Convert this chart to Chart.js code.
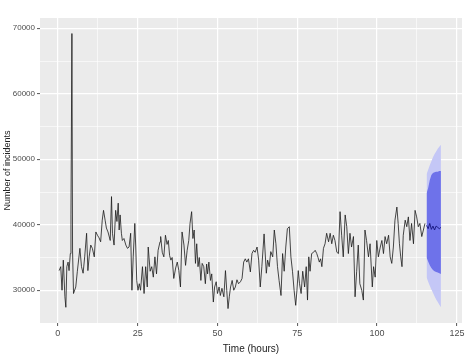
<!DOCTYPE html>
<html>
<head>
<meta charset="utf-8">
<script src="https://cdn.jsdelivr.net/npm/chart.js@4.4.1/dist/chart.umd.min.js"></script>
<style>
  html, body { margin: 0; padding: 0; background: #ffffff; }
  #wrap { width: 474px; height: 360px; }
</style>
</head>
<body>
<div id="wrap"><canvas id="incidentChart" width="474" height="360"></canvas></div>
<script>
// observed series (time in hours, incidents)
var hours = [0.4, 0.9, 1.3, 1.7, 2.2, 2.5, 2.8, 3.2, 3.5, 3.9, 4.1, 4.4, 4.6, 4.9, 5.6, 6.1, 6.9, 7.4, 7.9, 8.4,
  9.0, 9.4, 9.8, 10.3, 10.8, 11.4, 11.9, 12.4, 12.9, 13.4, 13.9, 14.3, 14.8, 15.2, 15.7, 16.4, 16.8, 17.1, 17.6, 18.1,
  18.5, 18.9, 19.2, 19.5, 19.9, 20.2, 20.7, 21.3, 21.8, 22.3, 22.8, 23.2, 23.6, 24.1, 24.4, 24.7, 25.1, 25.5, 25.9, 26.5,
  27.0, 27.5, 28.0, 28.3, 28.9, 29.4, 29.9, 30.4, 30.9, 31.4, 32.0, 32.2, 32.7, 33.2, 33.7, 34.2, 34.6, 35.0, 35.4, 35.8,
  36.3, 36.9, 37.4, 37.9, 38.4, 38.9, 39.5, 40.0, 40.5, 41.0, 41.4, 41.9, 42.3, 42.7, 43.1, 43.5, 43.9, 44.3, 44.8, 45.2,
  45.7, 46.2, 46.6, 46.9, 47.3, 47.8, 48.2, 48.7, 49.1, 49.6, 50.0, 50.5, 50.9, 51.4, 52.0, 52.5, 52.9, 53.3, 53.7, 54.1,
  54.6, 55.1, 55.6, 56.1, 56.6, 57.2, 57.7, 58.2, 58.7, 59.2, 59.7, 60.3, 60.8, 61.3, 61.8, 62.4, 62.9, 63.4, 63.9, 64.6,
  65.3, 65.7, 66.2, 66.7, 67.3, 67.8, 68.3, 68.8, 69.3, 69.9, 70.4, 70.9, 71.4, 71.9, 72.5, 73.0, 73.5, 74.0, 74.5, 74.9,
  75.3, 75.7, 76.2, 76.7, 77.3, 77.8, 78.2, 78.6, 79.0, 79.5, 80.1, 80.6, 81.1, 81.5, 81.9, 82.3, 82.7, 83.2, 83.7, 84.2,
  84.8, 85.3, 85.8, 86.3, 86.8, 87.4, 87.9, 88.4, 88.9, 89.4, 90.0, 90.5, 91.0, 91.5, 92.0, 92.6, 93.1, 93.6, 94.1, 94.6,
  95.2, 95.7, 96.2, 96.7, 97.3, 97.8, 98.5, 98.9, 99.4, 99.9, 100.4, 101.0, 101.5, 102.0, 102.5, 103.0, 103.6, 104.1, 104.6, 105.1,
  105.6, 106.2, 106.6, 107.0, 107.4, 107.8, 108.2, 108.8, 109.3, 109.8, 110.3, 110.8, 111.4, 111.9, 112.4, 112.9, 113.4, 114.0, 114.5, 115.0];
var incidents = [33000, 33600, 30000, 34600, 29000, 27400, 33600, 34300, 33000, 35600, 41500, 69200, 36000, 29500, 30500, 32900, 36400, 33600, 32600, 35100,
  38700, 33000, 35100, 36900, 36400, 35100, 38900, 38400, 38000, 37400, 40700, 42200, 40700, 39500, 38900, 37600, 44300, 38700, 36900, 42200,
  40500, 43300, 39200, 41500, 38700, 37600, 37900, 36900, 36400, 36600, 38700, 30000, 35100, 40200, 36600, 31500, 30000, 31000, 30000, 33600,
  29500, 33600, 30500, 36600, 32900, 33600, 32000, 35100, 32500, 36100, 37400, 38200, 35800, 35100, 38400, 37000, 37600, 35300, 34600, 35000,
  31800, 33400, 34300, 33000, 30500, 38900, 36900, 33800, 36100, 37600, 40200, 42000, 37900, 39200, 34100, 37100, 33600, 35000, 31500, 34100,
  33600, 31000, 34000, 32500, 34300, 31500, 32500, 28200, 30500, 31300, 29500, 30500, 29200, 30300, 29000, 33000, 30000, 27200, 29000, 30500,
  31500, 30000, 30500, 31600, 31000, 31300, 31800, 34300, 34800, 34300, 34800, 32800, 35600, 36100, 35800, 36600, 34600, 30500, 33600, 38600,
  32600, 34600, 33600, 35900, 35100, 39200, 37100, 33600, 31500, 29200, 35600, 32900, 36600, 39400, 39700, 35100, 32900, 30000, 27700, 30000,
  33000, 31000, 29500, 32900, 30500, 33600, 28500, 35100, 32900, 35600, 35800, 36100, 35600, 35000, 34300, 34800, 33600, 36400, 37100, 38700,
  37400, 38700, 37100, 38400, 37600, 35800, 35600, 42000, 38400, 35100, 41500, 39700, 35600, 38700, 36600, 38200, 29000, 32900, 36900, 31000,
  30000, 28500, 39200, 37600, 35100, 37100, 30500, 33600, 32000, 37600, 35100, 36600, 37600, 35600, 38200, 37100, 38400, 35100, 34100, 36600,
  40700, 42700, 40200, 37100, 35100, 33600, 38400, 40700, 39700, 41200, 37600, 40200, 37100, 42200, 41200, 39700, 40200, 38200, 39200, 40200];

// forecast
var fcHours = [115.5, 116, 116.5, 117, 117.5, 118, 118.5, 119, 119.5, 120];
var fcMean = [39900, 39400, 40200, 39300, 39800, 39200, 39800, 39600, 39400, 39600];
var fcHi80 = [44800, 45600, 46800, 47600, 47900, 48000, 48100, 48100, 48200, 48200];
var fcLo80 = [35000, 34400, 33800, 33400, 33100, 32900, 32800, 32700, 32600, 32500];
var fcHi95 = [47700, 48400, 49100, 49700, 50300, 50800, 51200, 51600, 51900, 52200];
var fcLo95 = [32000, 31300, 30700, 30100, 29600, 29100, 28600, 28200, 27800, 27400];

var xTickLabels = [0, 25, 50, 75, 100, 125];
var yTickLabels = [30000, 40000, 50000, 60000, 70000];

function pts(xs, ys) {
  return xs.map(function (x, i) { return { x: x, y: ys[i] }; });
}

// major ticks plus ggplot-style minor gridlines halfway between them
function withMinors(majors, lo, hi) {
  var out = [];
  var step = majors[1] - majors[0];
  majors.forEach(function (m) {
    if (m - step / 2 > lo) out.push({ value: m - step / 2 });
    if (m >= lo && m <= hi) out.push({ value: m });
  });
  var last = majors[majors.length - 1] + step / 2;
  if (last < hi) out.push({ value: last });
  return out;
}

// grey ggplot panel
var panelBg = {
  id: 'panelBg',
  beforeDraw: function (chart) {
    var a = chart.chartArea, ctx = chart.ctx;
    ctx.save();
    ctx.fillStyle = '#ebebeb';
    ctx.fillRect(a.left, a.top, a.right - a.left, a.bottom - a.top);
    ctx.restore();
  }
};

function isMajorX(v) { return xTickLabels.indexOf(v) !== -1; }
function isMajorY(v) { return yTickLabels.indexOf(v) !== -1; }

var band = { pointRadius: 0, borderWidth: 0, tension: 0 };
var xMin = -5.6, xMax = 126.6, yMin = 25000, yMax = 71570;

var ctx = document.getElementById('incidentChart').getContext('2d');
var chart = new Chart(ctx, {
  type: 'line',
  data: {
    datasets: [
      Object.assign({ data: pts(fcHours, fcHi95), fill: '+1', backgroundColor: 'rgb(196,199,246)', order: 5 }, band),
      Object.assign({ data: pts(fcHours, fcLo95), fill: false, order: 5 }, band),
      Object.assign({ data: pts(fcHours, fcHi80), fill: '+1', backgroundColor: 'rgb(110,114,234)', order: 3 }, band),
      Object.assign({ data: pts(fcHours, fcLo80), fill: false, order: 3 }, band),
      {
        data: pts(hours, incidents),
        borderColor: '#1a1a1a',
        borderWidth: 0.8,
        pointRadius: 0,
        fill: false,
        order: 0
      },
      {
        data: pts(fcHours, fcMean),
        borderColor: '#14147a',
        borderWidth: 0.9,
        pointRadius: 0,
        fill: false,
        order: 1
      }
    ]
  },
  options: {
    responsive: false,
    animation: false,
    events: [],
    layout: { padding: { left: 0, top: 18, right: 12, bottom: 0 } },
    plugins: { legend: { display: false }, tooltip: { enabled: false } },
    scales: {
      x: {
        type: 'linear',
        min: xMin,
        max: xMax,
        afterBuildTicks: function (s) { s.ticks = withMinors(xTickLabels, xMin, xMax); },
        afterFit: function (s) { s.height = 37; },
        ticks: {
          autoSkip: false,
          maxRotation: 0,
          padding: 2,
          color: '#4d4d4d',
          font: { family: 'Liberation Sans', size: 9 },
          callback: function (v) { return isMajorX(v) ? String(v) : ''; }
        },
        grid: {
          color: '#ffffff',
          lineWidth: function (c) { return c.tick && isMajorX(c.tick.value) ? 1.2 : 0.6; },
          tickColor: function (c) { return c.tick && isMajorX(c.tick.value) ? '#555555' : 'rgba(0,0,0,0)'; },
          tickWidth: 1,
          tickLength: 3
        },
        border: { display: false },
        title: {
          display: true,
          text: 'Time (hours)',
          color: '#222222',
          font: { family: 'Liberation Sans', size: 10 },
          padding: { top: 0, bottom: 5 }
        }
      },
      y: {
        type: 'linear',
        min: yMin,
        max: yMax,
        afterBuildTicks: function (s) { s.ticks = withMinors(yTickLabels, yMin, yMax); },
        afterFit: function (s) { s.width = 40; },
        ticks: {
          autoSkip: false,
          padding: 2,
          color: '#4d4d4d',
          font: { family: 'Liberation Sans', size: 8 },
          callback: function (v) { return isMajorY(v) ? String(v) : ''; }
        },
        grid: {
          color: '#ffffff',
          lineWidth: function (c) { return c.tick && isMajorY(c.tick.value) ? 1.2 : 0.6; },
          tickColor: function (c) { return c.tick && isMajorY(c.tick.value) ? '#555555' : 'rgba(0,0,0,0)'; },
          tickWidth: 1,
          tickLength: 3
        },
        border: { display: false },
        title: {
          display: true,
          text: 'Number of incidents',
          color: '#222222',
          font: { family: 'Liberation Sans', size: 9 },
          padding: { top: 2, bottom: 0 }
        }
      }
    }
  },
  plugins: [panelBg]
});
</script>
</body>
</html>
